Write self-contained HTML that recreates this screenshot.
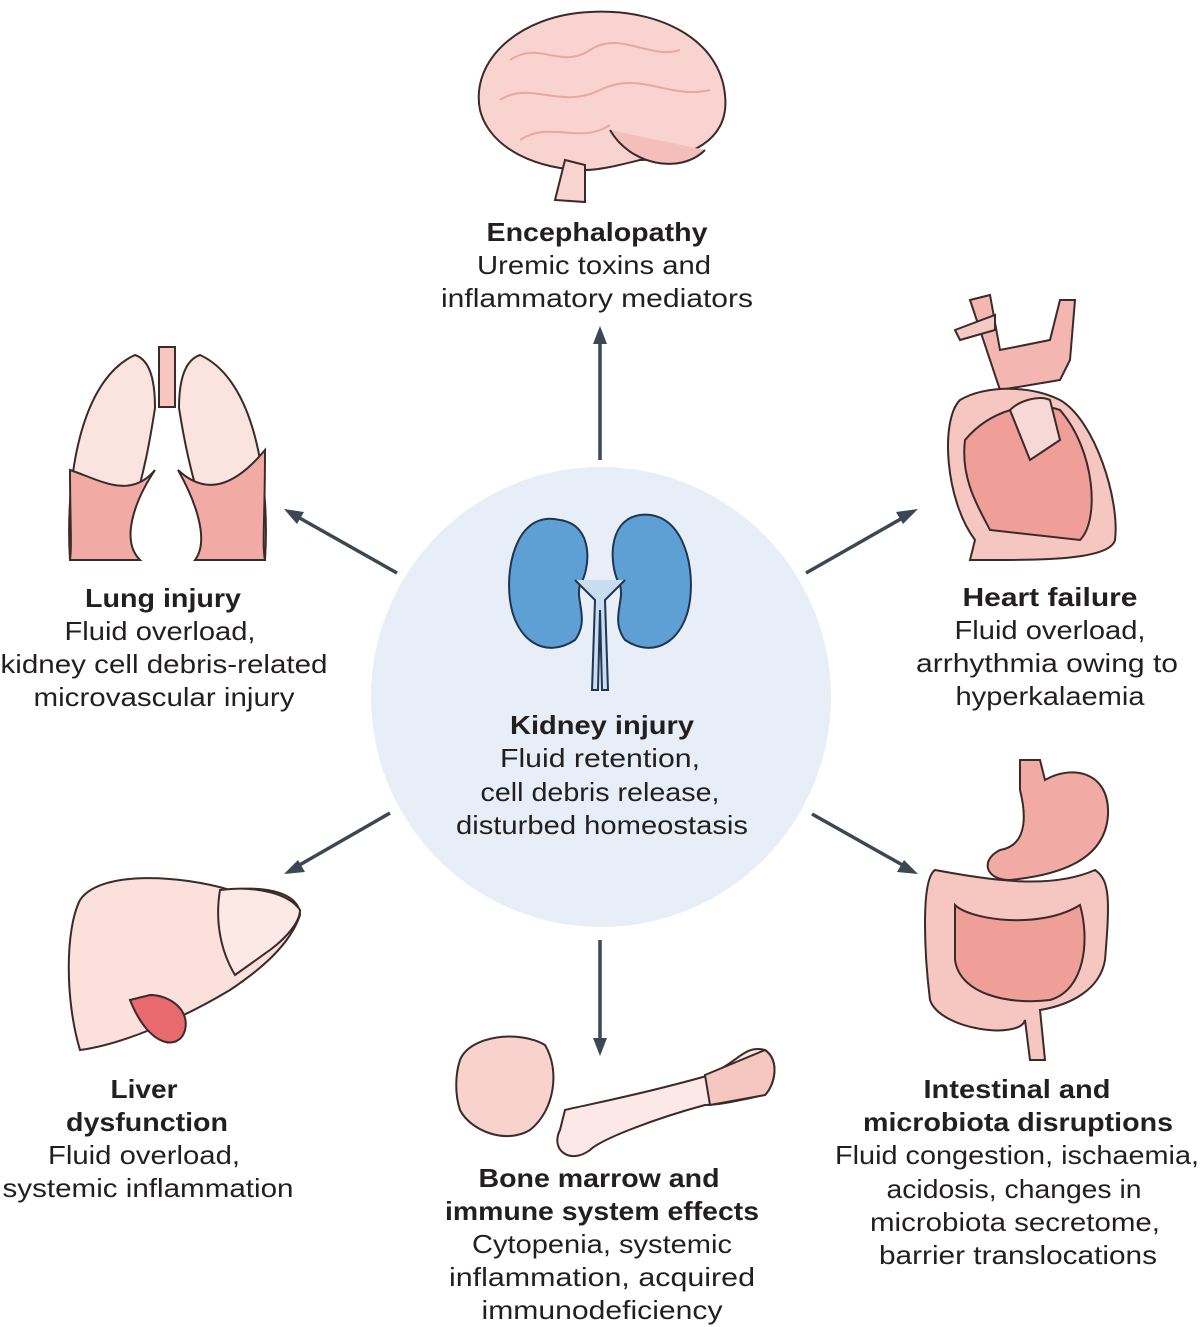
<!DOCTYPE html>
<html><head><meta charset="utf-8"><style>
html,body{margin:0;padding:0;background:#fff;}
svg{display:block;}
text{font-family:"Liberation Sans",sans-serif;font-size:26px;fill:#231f20;text-anchor:middle;}
.b{font-weight:bold;}
</style></head><body>
<svg width="1200" height="1327" viewBox="0 0 1200 1327" xmlns="http://www.w3.org/2000/svg">
<circle cx="601" cy="697" r="230" fill="#e7eef7"/>
<g stroke="#3b4853" stroke-width="3.5" fill="#3b4853">
<line x1="600" y1="460" x2="600" y2="340"/>
<polygon points="600,326 593,344 607,344" stroke="none"/>
<line x1="397" y1="573" x2="296" y2="516"/>
<polygon points="284,509 297,524 304,512" stroke="none"/>
<line x1="806" y1="573" x2="906" y2="516"/>
<polygon points="918,509 896,512 903,524" stroke="none"/>
<line x1="390" y1="813" x2="296" y2="867"/>
<polygon points="284,874 298,860 305,872" stroke="none"/>
<line x1="812" y1="814" x2="906" y2="867"/>
<polygon points="918,874 897,872 904,860" stroke="none"/>
<line x1="600" y1="940" x2="600" y2="1042"/>
<polygon points="600,1056 593,1038 607,1038" stroke="none"/>
</g>
<!-- brain -->
<g stroke="#3a2a2a" stroke-width="2" fill="#f9d3cf">
<path d="M480,110 C470,60 520,15 590,12 C660,8 720,40 725,95 C730,140 690,160 640,160 C620,165 600,170 585,170 C540,170 490,150 480,110Z"/>
<path d="M565,160 L555,200 L585,202 L585,165Z"/>
<path d="M610,130 C630,165 680,175 705,150" fill="#f4bfba"/>
</g>
<g stroke="#e8a7a2" stroke-width="2" fill="none">
<path d="M510,60 C540,40 560,70 590,50 C620,30 650,60 680,50"/>
<path d="M500,100 C530,80 560,110 600,90 C640,70 670,100 710,90"/>
<path d="M520,140 C550,120 580,145 610,125"/>
</g>
<!-- lungs -->
<g stroke="#3a2a2a" stroke-width="2">
<rect x="159" y="347" width="16" height="60" fill="#f6c6bf"/>
<path d="M155,408 C150,440 145,470 130,520 C122,545 125,560 140,560 L70,560 C65,480 80,380 135,355 C150,360 155,380 155,408Z" fill="#fbe3df"/>
<path d="M179,408 C184,440 190,470 205,520 C212,545 210,560 195,560 L265,560 C270,480 255,380 200,355 C185,360 179,380 179,408Z" fill="#fbe3df"/>
<path d="M70,470 C70,520 72,545 70,560 L140,560 C120,540 135,500 155,470 C130,500 100,480 70,470Z" fill="#f2aaa4"/>
<path d="M265,450 C265,520 262,545 265,560 L195,560 C210,540 195,500 178,470 C210,500 240,480 265,450Z" fill="#f2aaa4"/>
</g>
<!-- kidneys -->
<g stroke="#1f3550" stroke-width="2" fill="#5e9fd6">
<path d="M560,520 C520,510 505,560 510,600 C515,640 545,660 575,640 C590,620 575,600 580,585 C590,570 595,525 560,520Z"/>
<path d="M640,515 C680,510 695,560 690,600 C685,640 655,660 625,640 C610,620 625,600 620,585 C610,570 605,520 640,515Z"/>
<path d="M575,580 L595,600 L592,690 L598,690 L600,610 L602,690 L608,690 L605,600 L625,580" fill="#c8ddef"/>
</g>
<!-- heart -->
<g stroke="#3a2a2a" stroke-width="2">
<path d="M970,300 L990,295 L1000,350 L1050,340 L1060,300 L1075,300 L1070,360 L1060,380 L1000,390 Z" fill="#f4b6b0"/>
<path d="M955,330 L995,315 L995,330 L960,340Z" fill="#f6cac4"/>
<path d="M960,400 C940,420 945,500 975,540 L970,560 L995,560 C1040,560 1110,560 1115,540 C1120,500 1095,420 1060,400 C1030,385 985,385 960,400Z" fill="#f6c6c0"/>
<path d="M965,440 C960,480 980,510 990,530 L1080,540 C1100,520 1095,450 1060,410 C1030,400 990,410 965,440Z" fill="#f09e98"/>
<path d="M1010,410 C1020,400 1040,395 1050,400 L1060,440 L1030,460 Z" fill="#f8d8d4"/>
</g>
<!-- stomach & intestines -->
<g stroke="#3a2a2a" stroke-width="2">
<path d="M1020,760 L1040,760 L1045,780 C1070,765 1110,770 1108,815 C1105,860 1060,875 1010,880 C985,880 980,860 1000,850 C1030,845 1025,810 1020,790Z" fill="#f2aaa4"/>
<path d="M935,870 C920,880 925,960 930,1000 C940,1030 1020,1040 1025,1020 L1030,1060 L1045,1060 L1040,1010 C1070,1005 1100,990 1105,960 C1110,900 1110,880 1095,870 C1050,890 990,880 935,870Z" fill="#f6c6c0"/>
<path d="M955,905 C970,920 1040,930 1080,905 C1090,940 1085,990 1050,1000 C1010,1005 960,995 955,960Z" fill="#f09e98"/>
</g>
<!-- liver -->
<g stroke="#3a2a2a" stroke-width="2">
<path d="M80,900 C100,870 180,875 230,890 C270,885 300,895 300,915 C290,945 260,970 230,990 C180,1020 120,1045 80,1050 C65,1000 65,930 80,900Z" fill="#fbe0dc"/>
<path d="M130,1000 C150,1050 180,1050 185,1030 C190,1010 170,995 150,995Z" fill="#e96a6e"/>
<path d="M220,890 C215,920 220,950 235,975 L270,950 C290,935 300,920 300,910 C290,895 260,885 220,890Z" fill="#fce8e5"/>
</g>
<!-- spleen & bone -->
<g stroke="#3a2a2a" stroke-width="2">
<path d="M460,1060 C470,1035 520,1030 545,1045 C560,1070 555,1110 530,1130 C505,1145 470,1130 460,1110 C455,1095 455,1075 460,1060Z" fill="#f8d2cd"/>
<path d="M565,1110 C585,1105 640,1095 710,1075 C740,1060 745,1045 765,1050 C780,1060 775,1085 765,1095 C740,1100 720,1105 705,1105 C650,1120 600,1140 590,1150 C570,1165 550,1150 560,1130 Z" fill="#fce8e6"/>
<path d="M705,1075 L765,1050 C780,1060 775,1085 765,1095 L710,1105Z" fill="#f6c6c0"/>
</g>
<!-- text -->
<g lengthAdjust="spacingAndGlyphs">
<text class="b" x="597" y="241" textLength="221" lengthAdjust="spacingAndGlyphs">Encephalopathy</text>
<text x="594" y="274" textLength="234" lengthAdjust="spacingAndGlyphs">Uremic toxins and</text>
<text x="597" y="307" textLength="312" lengthAdjust="spacingAndGlyphs">inflammatory mediators</text>

<text class="b" x="163" y="607" textLength="156" lengthAdjust="spacingAndGlyphs">Lung injury</text>
<text x="160" y="640" textLength="191" lengthAdjust="spacingAndGlyphs">Fluid overload,</text>
<text x="164" y="673" textLength="327" lengthAdjust="spacingAndGlyphs">kidney cell debris-related</text>
<text x="164" y="706" textLength="261" lengthAdjust="spacingAndGlyphs">microvascular injury</text>

<text class="b" x="1050" y="606" textLength="175" lengthAdjust="spacingAndGlyphs">Heart failure</text>
<text x="1050" y="639" textLength="191" lengthAdjust="spacingAndGlyphs">Fluid overload,</text>
<text x="1047" y="672" textLength="262" lengthAdjust="spacingAndGlyphs">arrhythmia owing to</text>
<text x="1050" y="705" textLength="189" lengthAdjust="spacingAndGlyphs">hyperkalaemia</text>

<text class="b" x="602" y="734" textLength="184" lengthAdjust="spacingAndGlyphs">Kidney injury</text>
<text x="600" y="767" textLength="200" lengthAdjust="spacingAndGlyphs">Fluid retention,</text>
<text x="600" y="801" textLength="239" lengthAdjust="spacingAndGlyphs">cell debris release,</text>
<text x="602" y="834" textLength="292" lengthAdjust="spacingAndGlyphs">disturbed homeostasis</text>

<text class="b" x="144" y="1098" textLength="67" lengthAdjust="spacingAndGlyphs">Liver</text>
<text class="b" x="147" y="1131" textLength="162" lengthAdjust="spacingAndGlyphs">dysfunction</text>
<text x="144" y="1164" textLength="192" lengthAdjust="spacingAndGlyphs">Fluid overload,</text>
<text x="148" y="1197" textLength="291" lengthAdjust="spacingAndGlyphs">systemic inflammation</text>

<text class="b" x="599" y="1187" textLength="241" lengthAdjust="spacingAndGlyphs">Bone marrow and</text>
<text class="b" x="602" y="1220" textLength="314" lengthAdjust="spacingAndGlyphs">immune system effects</text>
<text x="602" y="1253" textLength="260" lengthAdjust="spacingAndGlyphs">Cytopenia, systemic</text>
<text x="602" y="1286" textLength="306" lengthAdjust="spacingAndGlyphs">inflammation,  acquired</text>
<text x="602" y="1319" textLength="241" lengthAdjust="spacingAndGlyphs">immunodeficiency</text>

<text class="b" x="1017" y="1098" textLength="187" lengthAdjust="spacingAndGlyphs">Intestinal and</text>
<text class="b" x="1018" y="1131" textLength="310" lengthAdjust="spacingAndGlyphs">microbiota disruptions</text>
<text x="1017" y="1164" textLength="364" lengthAdjust="spacingAndGlyphs">Fluid congestion, ischaemia,</text>
<text x="1014" y="1198" textLength="255" lengthAdjust="spacingAndGlyphs">acidosis, changes in</text>
<text x="1015" y="1231" textLength="290" lengthAdjust="spacingAndGlyphs">microbiota secretome,</text>
<text x="1018" y="1264" textLength="278" lengthAdjust="spacingAndGlyphs">barrier translocations</text>
</g>
</svg>
</body></html>
